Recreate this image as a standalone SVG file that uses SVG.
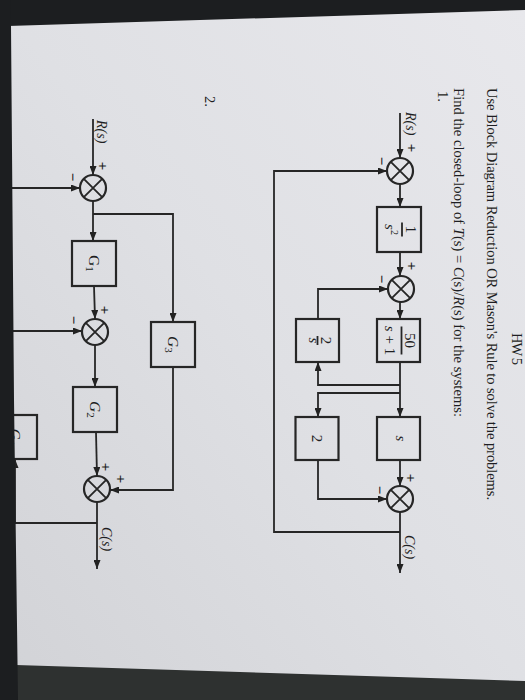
<svg xmlns="http://www.w3.org/2000/svg" width="525" height="700" viewBox="0 0 525 700">
  <defs>
    <linearGradient id="paper" x1="1" y1="0" x2="0" y2="1">
      <stop offset="0" stop-color="#e8e8ec"/>
      <stop offset="0.5" stop-color="#dfe0e4"/>
      <stop offset="1" stop-color="#d2d3d7"/>
    </linearGradient>
    <marker id="ah" viewBox="0 0 9 7" refX="9" refY="3.5" markerWidth="9" markerHeight="7" markerUnits="userSpaceOnUse" orient="auto">
      <path d="M0,0 L9,3.5 L0,7 z" fill="#222"/>
    </marker>
    <style>
      .ln { fill: none; stroke: #262626; stroke-width: 1.8; }
      .arr { marker-end: url(#ah); }
      .box { fill: none; stroke: #262626; stroke-width: 2.2; }
      .sum { fill: none; stroke: #262626; stroke-width: 2.2; }
      .t { font-family: "Liberation Serif", "DejaVu Serif", serif; fill: #1e1e22; }
      .h { font-size: 14.5px; }
      .lab { font-size: 14px; font-style: italic; }
      .sg { font-size: 15px; font-weight: bold; text-anchor: middle; dominant-baseline: central; }
      .bl { font-size: 15px; text-anchor: middle; }
    </style>
  </defs>

  <!-- photo surroundings and paper -->
  <rect x="0" y="0" width="525" height="700" fill="#1c1e20"/>
  <polygon points="0,660 525,676 525,700 0,700" fill="#2e3130"/>
  <polygon points="8,26 525,10 525,681 16,665" fill="url(#paper)"/>

  <!-- header texts -->
  <g id="texts">
    <text class="t h" transform="translate(512 333) rotate(90)" textLength="32" lengthAdjust="spacing">HW 5</text>
    <text class="t h" transform="translate(487 88) rotate(90)" textLength="412" lengthAdjust="spacing">Use Block Diagram Reduction OR Mason's Rule to solve the problems.</text>
    <text class="t h" transform="translate(454 88) rotate(90)" textLength="329" lengthAdjust="spacing">Find the closed-loop of <tspan font-style="italic">T</tspan>(s) = <tspan font-style="italic">C</tspan>(s)/<tspan font-style="italic">R</tspan>(s) for the systems:</text>
    <text class="t h" transform="translate(438 91) rotate(90)">1.</text>
    <text class="t h" transform="translate(205 96) rotate(90)">2.</text>
  </g>

  <!-- connectors -->
  <g id="connectors">
    <!-- diagram 1 -->
    <path class="ln arr" d="M400,113 V158"/>
    <path class="ln arr" d="M400,532 H274 V171 H387"/>
    <path class="ln arr" d="M400,184 V207"/>
    <path class="ln arr" d="M400,252 V276"/>
    <path class="ln arr" d="M318,319 V289 H388"/>
    <path class="ln arr" d="M400,302 V319"/>
    <path class="ln arr" d="M400,362 V417"/>
    <path class="ln arr" d="M400,385 H318 V362"/>
    <path class="ln arr" d="M400,393 H318 V417"/>
    <path class="ln arr" d="M400,460 V486"/>
    <path class="ln arr" d="M318,460 V499 H387"/>
    <path class="ln arr" d="M400,512 V573"/>
    <!-- diagram 2 -->
    <path class="ln arr" d="M93,119 V175"/>
    <path class="ln arr" d="M10,188 H80"/>
    <path class="ln arr" d="M93,201 V241"/>
    <path class="ln arr" d="M93,214 H173 V322"/>
    <path class="ln arr" d="M94,286 L95,319"/>
    <path class="ln arr" d="M10,331 H82"/>
    <path class="ln arr" d="M95,345 V387"/>
    <path class="ln arr" d="M96,432 L97,476"/>
    <path class="ln arr" d="M173,367 V490 H110"/>
    <path class="ln arr" d="M97,502 V569"/>
    <path class="ln arr" d="M97,523 H15 V459"/>
  </g>

  <!-- diagram 1 nodes -->
  <g id="d1-R">
    <text class="t lab" transform="translate(406 112) rotate(90)">R(s)</text>
  </g>
  <g id="d1-sum1">
    <circle class="sum" cx="400" cy="171" r="13"/>
    <path class="ln" d="M390.8,161.8 L409.2,180.2 M409.2,161.8 L390.8,180.2"/>
    <text class="t sg" transform="translate(412 148) rotate(90)">+</text>
    <text class="t sg" transform="translate(382 161) rotate(90)">−</text>
  </g>
  <g id="d1-box-1s2" transform="translate(399 229.5) rotate(90)">
    <rect class="box" x="-22.5" y="-22" width="45" height="44"/>
    <text class="t bl" x="0" y="-7">1</text>
    <line class="ln" x1="-7" y1="-3" x2="7" y2="-3"/>
    <text class="t bl" x="0" y="14"><tspan font-style="italic">s</tspan><tspan font-size="10" dy="-6">2</tspan></text>
  </g>
  <g id="d1-sum2">
    <circle class="sum" cx="401" cy="289" r="13"/>
    <path class="ln" d="M391.8,279.8 L410.2,298.2 M410.2,279.8 L391.8,298.2"/>
    <text class="t sg" transform="translate(412 266) rotate(90)">+</text>
    <text class="t sg" transform="translate(382 279) rotate(90)">−</text>
  </g>
  <g id="d1-box-50" transform="translate(398.5 340.5) rotate(90)">
    <rect class="box" x="-21.5" y="-21.5" width="43" height="43"/>
    <text class="t bl" x="0" y="-6">50</text>
    <line class="ln" x1="-14" y1="-3" x2="14" y2="-3"/>
    <text class="t bl" x="0" y="14"><tspan font-style="italic">s</tspan> + 1</text>
  </g>
  <g id="d1-box-2s" transform="translate(317.5 340.5) rotate(90)">
    <rect class="box" x="-21.5" y="-21.5" width="43" height="43"/>
    <text class="t bl" x="0" y="-3" font-size="12">2</text>
    <line class="ln" x1="-4.5" y1="0" x2="4.5" y2="0" stroke-width="1.3"/>
    <text class="t bl" x="0" y="9" font-size="12" font-style="italic">s</text>
  </g>
  <g id="d1-box-s" transform="translate(398.5 438.5) rotate(90)">
    <rect class="box" x="-21.5" y="-21.5" width="43" height="43"/>
    <text class="t bl" x="0" y="3" font-style="italic">s</text>
  </g>
  <g id="d1-box-2" transform="translate(317 438.5) rotate(90)">
    <rect class="box" x="-21.5" y="-21.5" width="43" height="43"/>
    <text class="t bl" x="0" y="5">2</text>
  </g>
  <g id="d1-sum3">
    <circle class="sum" cx="400" cy="499" r="13"/>
    <path class="ln" d="M390.8,489.8 L409.2,508.2 M409.2,489.8 L390.8,508.2"/>
    <text class="t sg" transform="translate(411 478) rotate(90)">+</text>
    <text class="t sg" transform="translate(380 490) rotate(90)">−</text>
  </g>
  <g id="d1-C">
    <text class="t lab" transform="translate(405 535) rotate(90)">C(s)</text>
  </g>

  <!-- diagram 2 nodes -->
  <g id="d2-R">
    <text class="t lab" transform="translate(97 120) rotate(90)">R(s)</text>
  </g>
  <g id="d2-sum1">
    <circle class="sum" cx="93" cy="188" r="13"/>
    <path class="ln" d="M83.8,178.8 L102.2,197.2 M102.2,178.8 L83.8,197.2"/>
    <text class="t sg" transform="translate(103 166) rotate(90)">+</text>
    <text class="t sg" transform="translate(73 177) rotate(90)">−</text>
  </g>
  <g id="d2-G1" transform="translate(94 263.5) rotate(90)">
    <rect class="box" x="-22.5" y="-22" width="45" height="44"/>
    <text class="t bl" x="0" y="5" font-size="16">G<tspan font-size="11" dy="3">1</tspan></text>
  </g>
  <g id="d2-G3" transform="translate(173 344.5) rotate(90)">
    <rect class="box" x="-22.5" y="-22" width="45" height="44"/>
    <text class="t bl" x="0" y="5" font-size="16"><tspan font-style="italic">G</tspan><tspan font-size="11" dy="3">3</tspan></text>
  </g>
  <g id="d2-sum2">
    <circle class="sum" cx="95" cy="332" r="13"/>
    <path class="ln" d="M85.8,322.8 L104.2,341.2 M104.2,322.8 L85.8,341.2"/>
    <text class="t sg" transform="translate(105 310) rotate(90)">+</text>
    <text class="t sg" transform="translate(74 320) rotate(90)">−</text>
  </g>
  <g id="d2-G2" transform="translate(95 409.5) rotate(90)">
    <rect class="box" x="-22.5" y="-22" width="45" height="44"/>
    <text class="t bl" x="0" y="5" font-size="16"><tspan font-style="italic">G</tspan><tspan font-size="11" dy="3">2</tspan></text>
  </g>
  <g id="d2-G4" transform="translate(15 437) rotate(90)">
    <rect class="box" x="-22" y="-22" width="44" height="44"/>
    <text class="t bl" x="0" y="5" font-size="16"><tspan font-style="italic">G</tspan><tspan font-size="11" dy="3">4</tspan></text>
  </g>
  <g id="d2-sum3">
    <circle class="sum" cx="97" cy="489" r="13"/>
    <path class="ln" d="M87.8,479.8 L106.2,498.2 M106.2,479.8 L87.8,498.2"/>
    <text class="t sg" transform="translate(106 467) rotate(90)">+</text>
    <text class="t sg" transform="translate(121 479) rotate(90)">+</text>
  </g>
  <g id="d2-C">
    <text class="t lab" transform="translate(102 527) rotate(90)">C(s)</text>
  </g>

  <!-- left photo edge overlay -->
  <polygon points="0,0 10,0 11,26 14,400 18,700 0,700" fill="#1c1e20"/>
</svg>
